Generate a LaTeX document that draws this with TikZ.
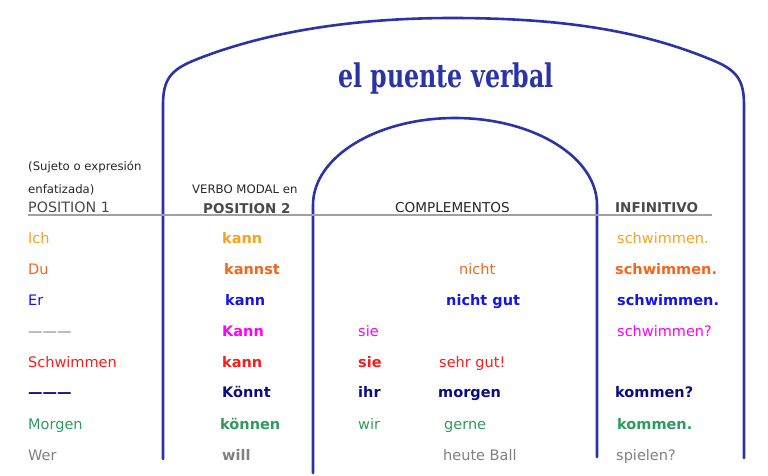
\documentclass[tikz,border=0pt]{standalone}
\usepackage{fontspec}
\setmainfont{DejaVu Sans}
\newfontfamily\titlefont[FakeStretch=0.73]{DejaVu Serif}
\usepackage{xcolor}
\usepackage{tikz}
\usetikzlibrary{positioning}
\definecolor{archblue}{HTML}{2A34A6}
\definecolor{headgray}{HTML}{4A4A4A}
\definecolor{rulegray}{HTML}{A0A0A0}
\definecolor{lightorange}{HTML}{F9A11B}
\definecolor{deeporange}{HTML}{F5661A}
\definecolor{pureblue}{HTML}{1414E6}
\definecolor{pink}{HTML}{FF00FF}
\definecolor{brightred}{HTML}{FF1A1A}
\definecolor{navyblue}{HTML}{0C0C80}
\definecolor{leafgreen}{HTML}{2E9A5E}
\definecolor{ashgray}{HTML}{808080}
\tikzset{
  word/.style   ={anchor=base west, inner sep=0pt, text=#1,
                  font=\fontsize{14.5}{17}\selectfont},
  verb/.style   ={word=#1, font=\fontsize{14.5}{17}\selectfont\bfseries},
  smallhead/.style={anchor=base west, inner sep=0pt, text=black!85,
                  font=\fontsize{11.7}{14}\selectfont},
  colhead/.style={anchor=base west, inner sep=0pt, text=headgray,
                  font=\fontsize{13.8}{16}\selectfont},
  arch/.style   ={draw=archblue, line width=2.6pt, line cap=round, line join=round},
}

\begin{document}
\begin{tikzpicture}[x=1pt, y=-1pt]
\useasboundingbox (0,0) rectangle (768,475);

% the two arches
\draw[arch] (163,459) -- (163,105) .. controls (163,80) and (170,70) .. (195,60)
  .. controls (270,30) and (360,18) .. (452,18)
  .. controls (560,18) and (640,30) .. (712,60)
  .. controls (737,70) and (744,80) .. (744,105) -- (744,458);
\draw[arch] (313,473) -- (313,205) .. controls (313,157) and (376.6,118) .. (455,118)
  .. controls (533.4,118) and (597,157) .. (597,205) -- (597,457);

\node[anchor=base, inner sep=0pt, text=archblue, font=\titlefont\bfseries\fontsize{32.5}{36}\selectfont]
  (title) at (446,87) {el puente verbal};

% column heads
\node[smallhead] (sujeto) at (28,170) {(Sujeto o expresión};
\node[smallhead] (enfat) at (28,193) {enfatizada)};
\node[colhead, font=\fontsize{14.3}{16}\selectfont] (pos1) at (28,212) {POSITION 1};
\node[smallhead] (modal) at (192,193) {VERBO MODAL en};
\node[colhead, font=\fontsize{13.5}{16}\selectfont\bfseries] (pos2) at (203,213) {POSITION 2};
\node[colhead, text=black!85, font=\fontsize{13.6}{16}\selectfont] (compl) at (395,212) {COMPLEMENTOS};
\node[colhead, font=\fontsize{13.5}{16}\selectfont\bfseries] (infin) at (615,212) {INFINITIVO};
\coordinate (ruleL) at (28,215);
\coordinate (ruleR) at (712,215);
\draw[rulegray, line width=1.3pt] (ruleL) -- (ruleR);

% rows
\node[word=lightorange] (ich) at (28,243) {Ich};
\node[verb=lightorange] (kannA) at (222,243) {kann};
\node[word=lightorange] (schwA) at (617,243) {schwimmen.};

\node[word=deeporange] (du) at (28,274) {Du};
\node[verb=deeporange] (kannst) at (224,274) {kannst};
\node[word=deeporange] (nicht) at (459,274) {nicht};
\node[verb=deeporange] (schwB) at (615,274) {schwimmen.};

\node[word=pureblue] (er) at (28,305) {Er};
\node[verb=pureblue] (kannC) at (225,305) {kann};
\node[verb=pureblue] (nichtgut) at (446,305) {nicht gut};
\node[verb=pureblue] (schwC) at (617,305) {schwimmen.};

\node[word=ashgray] (dashD) at (28,336) {———};
\node[verb=pink] (kannD) at (222,336) {Kann};
\node[word=pink] (sieD) at (358,336) {sie};
\node[word=pink] (schwD) at (617,336) {schwimmen?};

\node[word=brightred] (schwimmen) at (28,367) {Schwimmen};
\node[verb=brightred] (kannE) at (222,367) {kann};
\node[verb=brightred] (sieE) at (358,367) {sie};
\node[word=brightred] (sehrgut) at (439,367) {sehr gut!};

\node[verb=navyblue] (dashF) at (28,397) {———};
\node[verb=navyblue] (koennt) at (222,397) {Könnt};
\node[verb=navyblue] (ihr) at (358,397) {ihr};
\node[verb=navyblue] (morgenF) at (438,397) {morgen};
\node[verb=navyblue] (kommenF) at (615,397) {kommen?};

\node[word=leafgreen] (morgen) at (28,429) {Morgen};
\node[verb=leafgreen] (koennen) at (220,429) {können};
\node[word=leafgreen] (wir) at (358,429) {wir};
\node[word=leafgreen] (gerne) at (444,429) {gerne};
\node[verb=leafgreen] (kommenG) at (617,429) {kommen.};

\node[word=ashgray] (wer) at (28,460) {Wer};
\node[verb=ashgray] (will) at (222,460) {will};
\node[word=ashgray] (ball) at (443,460) {heute Ball};
\node[word=ashgray] (spielen) at (616,460) {spielen?};
\end{tikzpicture}
\end{document}
